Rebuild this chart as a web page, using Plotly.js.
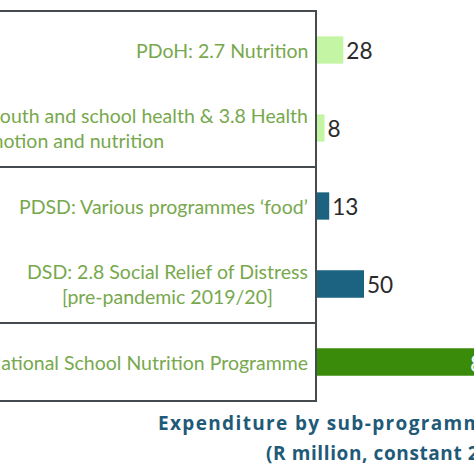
<!DOCTYPE html>
<html>
<head>
<meta charset="utf-8">
<script src="https://cdn.plot.ly/plotly-3.0.1.min.js"></script>
<style>html,body{margin:0;padding:0;overflow:hidden;background:#fff}</style>
</head>
<body>
<div id="chart" style="width:474px;height:474px"></div>
<script>
// ---- data ----
const categories = [
  'PDoH: 2.7 Nutrition',
  'PDoH: 2.6 Children, youth and school health &amp; 3.8 Health<br>promotion and nutrition',
  'PDSD: Various programmes ‘food’',
  'DSD: 2.8 Social Relief of Distress<br>[pre-pandemic 2019/20]',
  'DBE: National School Nutrition Programme'
];
const values = [28, 8, 13, 50, 8376];
const barColors = ['#c3f5a4', '#c3f5a4', '#1b6380', '#1b6380', '#3b8b0a'];
const titleLines = ['Expenditure by sub-programme, 2020/21', '(R million, constant 2021/22 prices)'];

// ---- layout helpers ----
const W = 474, H = 474, L = 317, T = 11, B = 73;
const plotW = W - L, plotH = H - T - B;
const xMax = 167;
const px = p => (p - L) / plotW;          // pixel x -> paper x
const py = p => (H - B - p) / plotH;      // pixel y -> paper y

const isBroken = values.map(v => v > xMax);
const texts = values.map((v, i) => isBroken[i] ? '' : String(v));

const trace = {
  type: 'bar',
  orientation: 'h',
  y: categories,
  x: values,
  width: 0.35,
  marker: {color: barColors},
  text: texts,
  textposition: values.map((v, i) => isBroken[i] ? 'none' : 'outside'),
  textfont: {family: 'Lato, sans-serif', size: 24, color: '#2a2a2a'},
  cliponaxis: true,
  hoverinfo: 'none'
};

const annotations = [];
categories.forEach((c, i) => {
  annotations.push({
    xref: 'paper', yref: 'y', x: 0, y: i, xshift: -7,
    xanchor: 'right', yanchor: 'middle', align: 'center',
    text: c, showarrow: false,
    font: {family: 'Lato, sans-serif', size: 19.5, color: '#77a84d'}
  });
  if (isBroken[i]) {
    annotations.push({
      xref: 'x', yref: 'y', x: xMax, y: i, xshift: -6,
      xanchor: 'left', yanchor: 'middle',
      text: values[i].toLocaleString('en-US').replace(',', ' '), showarrow: false,
      font: {family: 'Lato, sans-serif', size: 24, color: '#ffffff'}
    });
  }
});
annotations.push({
  xref: 'paper', yref: 'paper', x: px(156), y: py(423), xanchor: 'left', yanchor: 'middle', align: 'left',
  text: '<b>' + titleLines[0] + '</b>', showarrow: false,
  font: {family: '"Open Sans", sans-serif', size: 19, color: '#1f5a78'}
});
annotations.push({
  xref: 'paper', yref: 'paper', x: px(264), y: py(453), xanchor: 'left', yanchor: 'middle', align: 'left',
  text: '<b>' + titleLines[1] + '</b>', showarrow: false,
  font: {family: '"Open Sans", sans-serif', size: 19, color: '#1f5a78'}
});

const boxLine = {color: '#464b50', width: 2};
const groups = [[0, 2], [2, 4], [4, 5]]; // row groups framed together
const shapes = groups.map(g => ({
  type: 'rect', xref: 'paper', yref: 'paper',
  x0: -3, x1: px(316),
  y0: 1 - g[1] / categories.length, y1: 1 - g[0] / categories.length,
  line: boxLine, fillcolor: 'rgba(0,0,0,0)', layer: 'above'
}));

const layout = {
  width: W, height: H,
  margin: {l: L, r: 0, t: T, b: B, pad: 0},
  paper_bgcolor: '#ffffff', plot_bgcolor: '#ffffff',
  showlegend: false,
  xaxis: {range: [0, xMax], visible: false, fixedrange: true},
  yaxis: {autorange: 'reversed', showticklabels: false, showgrid: false, zeroline: false, showline: false, ticks: '', fixedrange: true},
  annotations: annotations,
  shapes: shapes,
  bargap: 0.65
};

Plotly.newPlot('chart', [trace], layout, {displayModeBar: false, staticPlot: true}).then(() => {
  // widen the tracking of the left-anchored axis caption lines
  document.querySelectorAll('#chart .annotation-text').forEach(el => {
    const t = el.textContent;
    if (t === titleLines[0]) el.style.letterSpacing = '1.35px';
    if (t === titleLines[1]) el.style.letterSpacing = '0.6px';
  });
});
</script>
</body>
</html>
